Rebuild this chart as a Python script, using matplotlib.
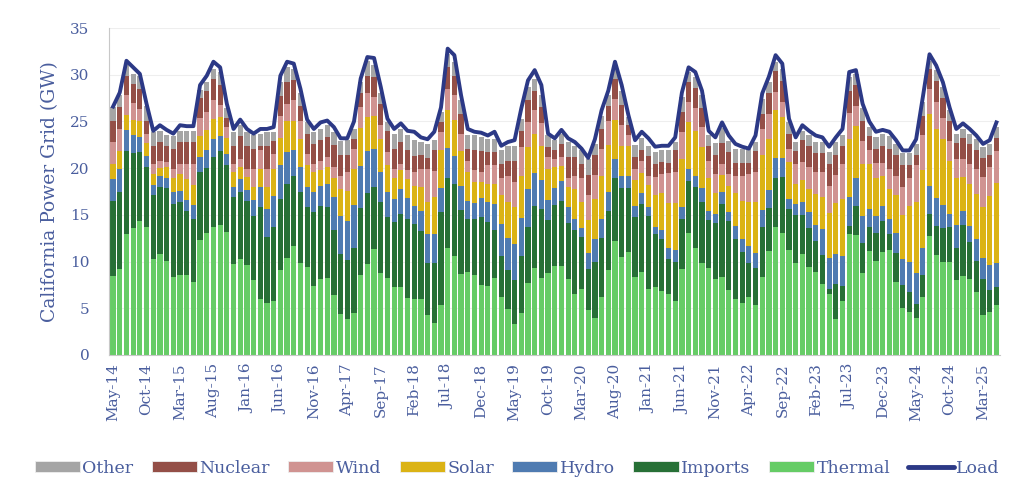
import matplotlib
matplotlib.use("Agg")
import matplotlib.pyplot as plt
import numpy as np
import pandas as pd
from matplotlib.patches import Patch
from matplotlib.lines import Line2D

# monthly data, May-14 .. May-25 (GW)
months = pd.date_range("2014-05-01", periods=133, freq="MS").strftime("%b-%y").tolist()

thermal = [8.5, 9.2, 13.0, 13.6, 14.3, 13.7, 10.3, 10.8, 10.1, 8.3, 8.6, 8.6, 7.8, 12.3, 13.1, 13.7, 13.9, 13.2, 9.7, 10.3,
           9.6, 8.0, 6.0, 5.6, 5.8, 9.1, 10.4, 11.7, 9.8, 9.4, 7.4, 8.1, 8.2, 6.4, 4.4, 3.9, 4.5, 8.6, 9.7, 11.3,
           8.8, 8.2, 7.3, 7.3, 6.1, 6.0, 6.0, 4.3, 3.4, 5.3, 11.5, 10.6, 8.7, 8.9, 8.6, 7.5, 7.4, 8.2, 6.2, 4.9,
           3.3, 4.5, 7.7, 9.3, 8.2, 8.8, 9.5, 9.5, 8.1, 6.5, 7.1, 4.8, 4.0, 6.2, 9.1, 12.2, 10.5, 11.0, 8.4, 8.9,
           7.1, 7.3, 6.9, 6.5, 5.8, 9.2, 13.1, 11.5, 9.9, 9.3, 8.1, 8.3, 7.0, 6.0, 5.6, 6.2, 5.4, 8.4, 11.1, 13.7,
           13.1, 11.2, 9.9, 10.8, 9.4, 8.9, 7.6, 6.5, 3.9, 5.8, 13.0, 12.8, 8.8, 11.1, 10.1, 11.0, 11.2, 7.8, 5.0, 4.6,
           4.0, 6.2, 12.7, 10.7, 10.0, 10.0, 8.0, 8.5, 8.1, 6.7, 4.3, 4.6, 5.3]
imports = [8.0, 8.3, 8.8, 8.0, 7.4, 6.4, 6.8, 7.2, 7.8, 7.9, 7.8, 6.8, 6.8, 7.3, 6.9, 7.5, 7.9, 7.1, 7.2, 7.2,
           6.9, 6.9, 9.8, 7.0, 7.9, 7.6, 7.9, 7.5, 7.7, 6.4, 7.9, 7.9, 7.6, 7.0, 6.4, 6.3, 7.0, 7.1, 7.6, 6.7,
           7.6, 6.6, 6.9, 7.8, 8.5, 8.0, 7.3, 5.5, 6.4, 10.0, 7.5, 7.7, 6.8, 5.7, 6.0, 7.3, 6.8, 5.2, 4.4, 4.2,
           4.7, 6.1, 6.0, 6.6, 7.4, 5.7, 6.6, 7.0, 6.0, 6.9, 5.5, 4.4, 6.0, 6.3, 6.3, 6.7, 7.4, 6.9, 6.4, 7.3,
           7.8, 5.6, 5.5, 3.8, 4.2, 5.4, 5.5, 6.5, 6.5, 5.1, 6.0, 7.9, 7.3, 6.4, 5.4, 3.7, 3.9, 5.3, 4.6, 5.3,
           6.0, 4.4, 5.1, 4.2, 4.2, 3.3, 3.1, 0.6, 3.7, 1.6, 0.8, 3.2, 3.2, 2.6, 3.0, 3.3, 1.8, 3.1, 2.5, 2.1,
           1.5, 2.4, 2.4, 3.1, 3.6, 3.7, 3.5, 5.4, 4.0, 3.4, 3.8, 2.4, 2.0]
hydro = [2.3, 2.4, 2.3, 2.0, 1.6, 1.2, 1.1, 1.2, 1.1, 1.2, 1.2, 1.2, 1.5, 1.6, 1.9, 1.9, 1.6, 1.2, 1.1, 1.3,
         1.2, 1.7, 2.2, 3.0, 3.3, 3.6, 3.4, 2.8, 2.6, 2.2, 2.2, 2.1, 2.5, 3.5, 4.1, 4.1, 4.6, 4.5, 4.5, 4.1,
         3.2, 2.6, 2.5, 2.7, 2.2, 2.0, 2.1, 3.1, 3.1, 2.6, 3.2, 3.0, 2.6, 1.9, 1.7, 2.0, 2.2, 2.8, 3.4, 3.4,
         3.9, 4.1, 4.1, 3.6, 3.1, 2.1, 1.8, 2.1, 1.7, 1.2, 1.0, 1.7, 2.4, 2.1, 2.1, 2.1, 1.3, 1.3, 1.1, 1.1,
         0.9, 0.8, 1.0, 1.1, 1.2, 1.2, 1.3, 1.2, 1.5, 1.0, 1.0, 1.2, 1.0, 1.4, 1.4, 1.8, 1.6, 1.8, 2.0, 2.1,
         2.0, 1.1, 1.2, 1.4, 1.7, 1.7, 2.8, 3.3, 3.2, 3.2, 3.1, 2.9, 2.9, 1.9, 1.8, 1.7, 1.6, 2.2, 2.8, 3.3,
         3.3, 2.8, 3.0, 3.0, 2.5, 1.4, 2.4, 1.5, 1.7, 2.3, 2.3, 2.6, 2.6]
solar = [1.6, 1.9, 1.6, 1.6, 1.7, 1.4, 1.2, 0.8, 1.1, 1.5, 1.8, 2.2, 2.1, 2.2, 2.2, 2.2, 2.1, 1.7, 1.6, 1.3,
         1.4, 1.4, 1.9, 2.4, 2.9, 2.9, 3.3, 3.1, 3.0, 2.3, 2.1, 1.7, 1.8, 2.0, 2.9, 3.3, 3.8, 4.1, 3.7, 3.5,
         3.5, 2.9, 2.2, 2.0, 2.0, 2.1, 2.6, 3.5, 4.0, 4.0, 4.0, 3.9, 3.7, 3.1, 2.2, 1.7, 1.9, 2.1, 3.1, 3.9,
         3.9, 4.5, 4.5, 4.2, 3.7, 3.3, 2.2, 1.6, 2.2, 3.2, 2.8, 3.6, 4.3, 4.6, 5.0, 4.2, 3.2, 3.2, 2.8, 2.2,
         2.4, 3.4, 3.9, 4.9, 5.1, 5.2, 5.0, 4.8, 4.4, 3.6, 2.2, 1.9, 2.8, 3.5, 4.1, 4.7, 5.5, 5.9, 5.4, 5.1,
         4.4, 4.0, 2.1, 2.3, 2.5, 3.3, 3.4, 4.8, 5.5, 6.1, 6.2, 5.6, 5.6, 4.9, 4.0, 3.2, 3.2, 4.0, 4.7, 6.0,
         7.6, 8.4, 7.7, 7.4, 7.0, 5.7, 5.0, 3.7, 4.5, 4.8, 5.4, 7.4, 8.5]
wind = [2.4, 2.4, 2.1, 1.8, 1.3, 1.0, 1.1, 0.8, 0.6, 1.0, 1.1, 1.7, 2.3, 2.0, 1.9, 2.0, 1.3, 1.2, 0.9, 0.9,
        0.8, 1.9, 2.0, 1.9, 1.6, 2.4, 1.9, 2.2, 2.0, 1.2, 0.9, 1.0, 1.1, 1.2, 1.4, 2.0, 2.2, 2.2, 2.5, 2.0,
        1.5, 1.4, 1.0, 0.7, 1.0, 1.5, 1.9, 3.5, 2.8, 2.0, 2.3, 2.6, 1.9, 1.2, 1.3, 1.1, 2.0, 2.0, 1.8, 2.8,
        2.7, 3.1, 2.6, 2.5, 2.4, 1.3, 0.9, 1.0, 1.0, 1.4, 2.5, 2.6, 2.6, 2.9, 2.5, 2.2, 2.2, 1.1, 1.2, 1.3,
        1.0, 2.0, 2.1, 3.2, 3.3, 2.9, 2.2, 2.4, 2.1, 1.8, 2.1, 1.2, 1.3, 1.9, 2.7, 3.0, 3.2, 2.8, 2.7, 2.0,
        1.6, 1.4, 2.2, 2.0, 2.3, 2.4, 2.7, 2.9, 3.0, 3.7, 2.8, 2.2, 2.4, 1.4, 1.7, 1.4, 2.1, 2.1, 3.0, 2.9,
        3.9, 3.7, 2.7, 2.9, 2.3, 2.1, 2.1, 1.9, 2.2, 2.7, 3.3, 3.1, 3.4]
nuclear = [2.2, 2.4, 2.1, 2.0, 2.2, 1.3, 1.9, 2.0, 1.7, 2.2, 2.3, 2.3, 2.3, 2.1, 2.3, 2.3, 2.1, 1.0, 1.9, 2.4,
           2.5, 2.2, 0.5, 2.5, 1.4, 2.1, 2.3, 2.1, 1.6, 2.2, 2.1, 2.2, 2.1, 2.4, 2.2, 1.8, 1.0, 1.5, 1.9, 2.2,
           2.3, 2.3, 2.2, 2.3, 2.2, 1.7, 1.5, 1.2, 2.2, 1.0, 2.3, 2.1, 2.1, 1.3, 2.1, 2.2, 1.4, 1.4, 1.5, 1.6,
           2.3, 1.7, 2.4, 2.1, 1.7, 1.1, 0.9, 1.4, 2.2, 2.0, 1.6, 2.2, 2.1, 2.1, 1.7, 2.2, 2.2, 1.1, 1.3, 1.2,
           2.1, 1.3, 1.3, 1.1, 2.3, 2.1, 2.1, 2.2, 2.0, 1.6, 2.0, 2.2, 2.3, 1.4, 1.4, 1.2, 2.2, 1.6, 2.2, 2.2,
           2.2, 1.6, 1.3, 2.3, 2.3, 2.0, 2.0, 2.3, 2.1, 2.0, 2.4, 2.2, 2.1, 1.5, 1.5, 1.8, 2.2, 2.2, 2.3, 1.4,
           1.1, 2.1, 2.1, 2.2, 2.1, 2.1, 1.7, 2.2, 2.1, 2.0, 2.0, 1.3, 1.4]
other = [1.5, 1.2, 1.1, 1.1, 1.4, 1.7, 1.5, 1.2, 1.1, 1.3, 1.2, 1.2, 1.2, 0.9, 0.9, 1.0, 1.4, 1.0, 1.5, 1.2,
         1.5, 1.4, 1.3, 1.5, 1.0, 1.5, 1.6, 1.2, 1.4, 1.2, 1.3, 1.2, 1.3, 1.4, 1.5, 1.6, 1.1, 1.2, 1.6, 1.2,
         1.2, 0.9, 1.6, 1.4, 1.5, 1.7, 1.4, 1.5, 1.1, 1.1, 1.4, 1.5, 1.5, 1.4, 1.6, 1.5, 1.4, 1.4, 1.5, 1.6,
         1.6, 1.3, 1.4, 1.3, 1.3, 1.2, 1.1, 1.1, 1.6, 1.2, 1.4, 1.7, 1.2, 1.4, 1.1, 1.0, 1.5, 0.9, 1.3, 1.2,
         1.1, 1.3, 1.2, 1.3, 0.9, 1.6, 1.1, 1.2, 1.4, 1.1, 1.3, 1.6, 1.2, 1.5, 1.5, 1.5, 1.0, 1.6, 1.2, 1.0,
         1.3, 1.2, 1.0, 1.0, 1.1, 1.2, 1.2, 1.3, 1.4, 1.1, 1.5, 1.2, 1.4, 1.0, 1.2, 1.3, 1.3, 1.2, 1.3, 1.3,
         1.2, 1.5, 0.9, 1.2, 1.2, 1.2, 1.0, 1.0, 1.1, 1.2, 1.2, 1.2, 1.2]
load = [26.6, 28.1, 31.5, 30.8, 30.1, 26.9, 24.0, 24.6, 24.1, 23.7, 24.6, 24.5, 24.5, 28.9, 29.9, 31.4, 30.8, 26.9, 24.2, 25.2,
        24.2, 23.7, 24.2, 24.2, 24.4, 29.9, 31.4, 31.2, 28.5, 25.2, 24.2, 24.9, 25.1, 24.4, 23.2, 23.2, 25.0, 29.6, 31.9, 31.8,
        28.7, 25.3, 24.2, 24.8, 24.0, 23.9, 23.3, 23.1, 23.9, 26.5, 32.8, 32.1, 27.8, 24.2, 23.9, 23.8, 23.5, 23.9, 22.4, 22.8,
        23.0, 26.4, 29.4, 30.5, 28.9, 23.7, 23.2, 24.1, 23.2, 22.8, 22.1, 21.1, 23.1, 26.2, 28.3, 31.4, 28.9, 25.7, 23.0, 23.9,
        23.2, 22.3, 22.4, 22.4, 23.3, 28.1, 30.8, 30.3, 28.3, 24.0, 23.3, 24.9, 23.5, 22.6, 22.3, 22.1, 23.5, 28.0, 29.8, 32.1,
        31.2, 25.3, 23.3, 24.6, 24.0, 23.5, 23.3, 22.3, 23.3, 24.2, 30.3, 30.5, 26.9, 25.0, 23.9, 24.1, 23.9, 23.0, 21.9, 21.9,
        23.1, 27.6, 32.2, 31.0, 29.2, 26.5, 24.2, 24.8, 24.2, 23.5, 22.6, 23.0, 24.9]

series = [("Thermal", thermal, "#66cc66"), ("Imports", imports, "#277036"), ("Hydro", hydro, "#4f7bb1"),
          ("Solar", solar, "#dbb315"), ("Wind", wind, "#d09391"), ("Nuclear", nuclear, "#944f47"),
          ("Other", other, "#a5a5a5")]
load_color = "#2c3986"
text_color = "#4a5e9e"

plt.rcParams["font.family"] = ["DejaVu Serif"]

fig = plt.figure(figsize=(10.24, 4.93), dpi=100)
ax = fig.add_axes([0.1065, 0.28, 0.8705, 0.663])

x = np.arange(len(months))
bottom = np.zeros(len(months))
for name, vals, col in series:
    vals = np.array(vals)
    ax.bar(x, vals, bottom=bottom, width=0.78, color=col, linewidth=0, zorder=2)
    bottom += vals
ax.plot(x, load, color=load_color, linewidth=2.8, zorder=3, solid_joinstyle="round")

ax.set_xlim(-0.6, 132.6)
ax.set_ylim(0, 35)
ax.set_yticks(range(0, 36, 5))
ax.set_xticks(x[::5])
ax.set_xticklabels(months[::5], rotation=90)
ax.tick_params(axis="both", length=0, colors=text_color, labelsize=11)
ax.tick_params(axis="y", pad=14)
ax.tick_params(axis="x", pad=6)
ax.grid(axis="y", color="#eeeeee", linewidth=0.8, zorder=0)
for s in ["top", "right"]:
    ax.spines[s].set_visible(False)
for s in ["left", "bottom"]:
    ax.spines[s].set_color("#c8c8c8")
ax.set_ylabel("California Power Grid (GW)", color=text_color, fontsize=13.5, labelpad=8)

order = ["Other", "Nuclear", "Wind", "Solar", "Hydro", "Imports", "Thermal"]
cols = {n: c for n, v, c in series}
handles = [Patch(facecolor=cols[n], edgecolor="#eeeeee", linewidth=0.6, label=n) for n in order]
handles.append(Line2D([], [], color=load_color, linewidth=3.5, solid_capstyle="round", label="Load"))
leg = fig.legend(handles=handles, loc="center", bbox_to_anchor=(0.505, 0.05), ncol=8, frameon=False,
                 fontsize=12.5, handlelength=2.6, handleheight=0.6, handletextpad=0.15, columnspacing=1.05)
for t in leg.get_texts():
    t.set_color(text_color)

fig.savefig("out.png", dpi=100)
